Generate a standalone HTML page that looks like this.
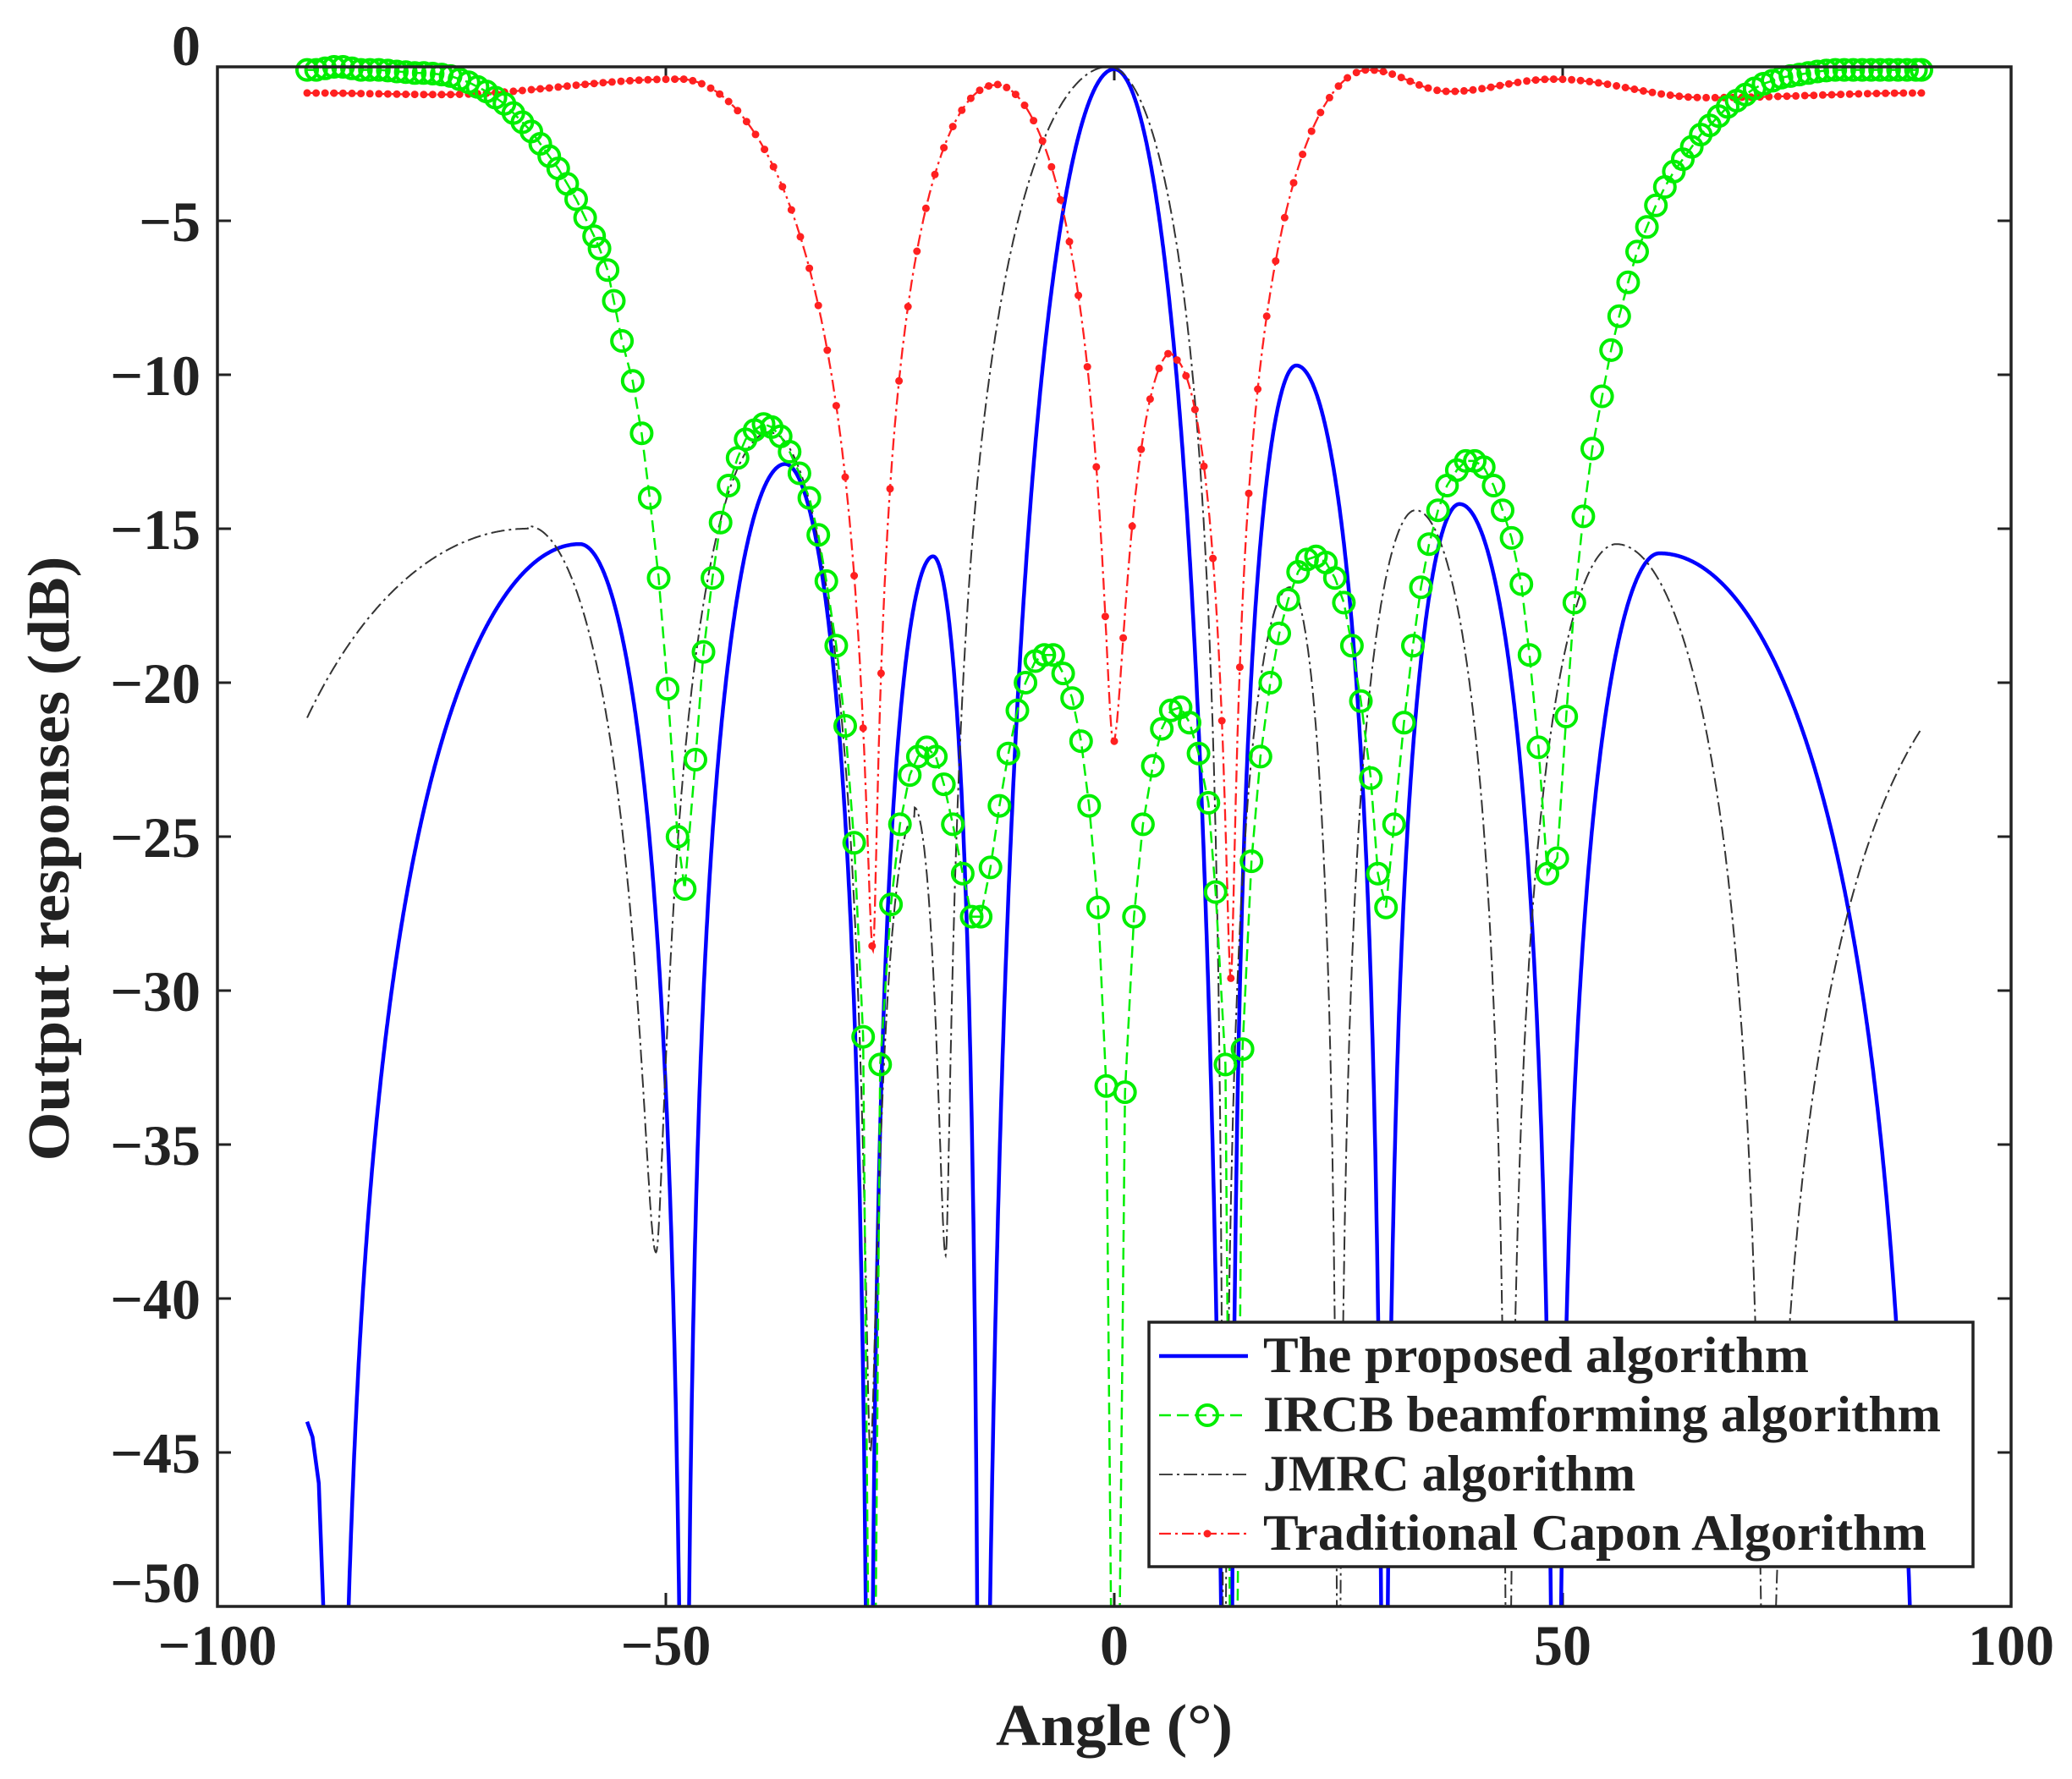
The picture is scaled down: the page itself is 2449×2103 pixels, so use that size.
<!DOCTYPE html>
<html><head><meta charset="utf-8">
<style>
html,body{margin:0;padding:0;background:#fff;width:2449px;height:2103px;overflow:hidden;}
svg{display:block;position:absolute;left:0;top:0;}
text{font-family:"Liberation Serif",serif;font-weight:bold;fill:#222;}
</style></head>
<body>
<svg id="s" width="2449" height="2103" viewBox="0 0 2449 2103" xmlns="http://www.w3.org/2000/svg">
<defs><clipPath id="cp"><rect x="0" y="0" width="2449" height="1899"/></clipPath>
<clipPath id="cp2"><rect x="257" y="79" width="2120" height="1820"/></clipPath></defs>
<rect x="0" y="0" width="2449" height="2103" fill="#fff"/>
<g id="ticks"></g>
<g id="plot"></g>
<rect x="257" y="79" width="2120" height="1820" fill="none" stroke="#222" stroke-width="3.5"/>
<g id="labels"></g>
<text x="1317" y="2063" font-size="70" text-anchor="middle" textLength="280" lengthAdjust="spacingAndGlyphs">Angle (°)</text>
<text transform="translate(81,1015) rotate(-90)" font-size="70" text-anchor="middle" textLength="715" lengthAdjust="spacingAndGlyphs">Output responses (dB)</text>
<g>
<rect x="1358" y="1563" width="974" height="289" fill="#fff" stroke="#222" stroke-width="3.5"/>
<line x1="1370" y1="1603" x2="1475" y2="1603" stroke="#0000ff" stroke-width="4.5"/>
<line x1="1370" y1="1673" x2="1475" y2="1673" stroke="#00ee00" stroke-width="2.5" stroke-dasharray="14,7"/>
<circle cx="1427" cy="1673" r="12" fill="none" stroke="#00ee00" stroke-width="4"/>
<line x1="1370" y1="1743" x2="1475" y2="1743" stroke="#444" stroke-width="2" stroke-dasharray="16,5,3,5"/>
<line x1="1370" y1="1813" x2="1475" y2="1813" stroke="#ff2020" stroke-width="2.3" stroke-dasharray="14,5,3,5"/>
<circle cx="1427" cy="1813" r="4.5" fill="#ff2020"/>
<text x="1493" y="1622" font-size="60" textLength="645" lengthAdjust="spacingAndGlyphs">The proposed algorithm</text>
<text x="1493" y="1692" font-size="60" textLength="801" lengthAdjust="spacingAndGlyphs">IRCB beamforming algorithm</text>
<text x="1493" y="1762" font-size="60" textLength="440" lengthAdjust="spacingAndGlyphs">JMRC algorithm</text>
<text x="1493" y="1832" font-size="60" textLength="784" lengthAdjust="spacingAndGlyphs">Traditional Capon Algorithm</text>
</g>
</svg>
<script>
(function(){
var NS="http://www.w3.org/2000/svg";
var L=257,R=2377,T=79,B=1899;
function X(a){return L+(a+100)*(R-L)/200;}
function Y(d){return T-d*(B-T)/50;}
function el(tag,attrs,parent,txt){var e=document.createElementNS(NS,tag);for(var k in attrs)e.setAttribute(k,attrs[k]);if(txt!==undefined)e.textContent=txt;parent.appendChild(e);return e;}
var ticks=document.getElementById('ticks'),labels=document.getElementById('labels'),plot=document.getElementById('plot');
var tl=16;
[-100,-50,0,50,100].forEach(function(a){var x=X(a);
 el('line',{x1:x,y1:B,x2:x,y2:B-tl,stroke:'#222','stroke-width':3},ticks);
 el('line',{x1:x,y1:T,x2:x,y2:T+tl,stroke:'#222','stroke-width':3},ticks);
 el('text',{x:x,y:1968,'font-size':68,'text-anchor':'middle'},labels,(a<0?'\u2212':'')+Math.abs(a));
});
for(var d=0;d>=-50;d-=5){var y=Y(d);
 el('line',{x1:L,y1:y,x2:L+tl,y2:y,stroke:'#222','stroke-width':3},ticks);
 el('line',{x1:R,y1:y,x2:R-tl,y2:y,stroke:'#222','stroke-width':3},ticks);
 var by=y+24; if(d===0)by=77; if(d===-50)by=1894;
 el('text',{x:237,y:by,'font-size':68,'text-anchor':'end'},labels,(d<0?'\u2212':'')+Math.abs(d));
}
function lobe(x,xp,vp,xn,vn,k){var eps=Math.pow(10,(vn-vp)/(10*k));var t=Math.abs(x-xp)/Math.abs(xn-xp);var c=Math.cos(Math.PI/2*Math.min(t,1));return vp+10*k*Math.log10(c*c+eps);}
function cosi(x,x0,v0,x1,v1){var t=(x-x0)/(x1-x0);return v0+(v1-v0)*(1-Math.cos(Math.PI*t))/2;}
function evalCurve(ext,x){
 for(var i=0;i<ext.length-1;i++){var a=ext[i],b=ext[i+1];
  if(x>=a[0]&&x<=b[0]){var k=a[2]||1;
   if(a[3]==='c')return cosi(x,a[0],a[1],b[0],b[1]);
   if(a[1]>b[1])return lobe(x,a[0],a[1],b[0],b[1],k);
   return lobe(x,b[0],b[1],a[0],a[1],k);}
 }return null;}
function pathFrom(pts){var s='';pts.forEach(function(p,i){s+=(i?'L':'M')+X(p[0]).toFixed(1)+' '+Y(Math.max(p[1],-70)).toFixed(1);});return s;}
function sample(ext,x0,x1,st){var pts=[];for(var x=x0;x<=x1+1e-9;x+=st)pts.push([x,evalCurve(ext,x)]);return pts;}
var g=el('g',{'clip-path':'url(#cp2)'},plot);
var bk=1.6,bm=2.8;
var blueExt=[[-86.8,-75,bk],[-59.6,-15.5,bk],[-47.9,-75,bk],[-36.7,-12.9,bk],[-27.3,-75,bk],[-20.2,-15.9,bk],[-15,-75,bm],[0,-0.1,bm],[12.9,-75,bk],[20.3,-9.7,bk],[30.1,-75,bk],[38.5,-14.2,bk],[49.2,-75,bk],[60.8,-15.8,bk],[90.3,-75,bk]];
var bp=[[-90,-44],[-89.4,-44.5],[-88.7,-46],[-88.2,-50],[-88,-62]].concat(sample(blueExt,-86.8,90,0.05));
el('path',{d:pathFrom(bp),fill:'none',stroke:'#0000ff','stroke-width':4.5,'stroke-linejoin':'round'},g);
var gr=[[-90,-0.1],[-89,-0.1],[-88,-0.05],[-87,0],[-86,0],[-85,-0.05],[-84,-0.1],[-83,-0.1],[-82,-0.1],[-81,-0.12],[-80,-0.15],[-79,-0.17],[-78,-0.2],[-77,-0.2],[-76,-0.22],[-75,-0.25],[-74,-0.3],[-73,-0.4],[-72,-0.5],[-71,-0.65],[-70,-0.8],[-69,-1.0],[-68,-1.2],[-67,-1.5],[-66,-1.8],[-65,-2.1],[-64,-2.5],[-63,-2.9],[-62,-3.3],[-61,-3.8],[-60,-4.3],[-59,-4.9],[-58,-5.5],
[-57.4,-5.9],[-56.5,-6.6],[-55.8,-7.6],[-54.9,-8.9],[-53.7,-10.2],[-52.7,-11.9],[-51.8,-14],[-50.8,-16.6],[-49.8,-20.2],[-48.7,-25],[-47.9,-26.7],[-46.7,-22.5],[-45.8,-19],[-44.8,-16.6],[-43.9,-14.8],[-43,-13.6],[-42,-12.7],[-41.1,-12.1],[-40.1,-11.8],[-39.1,-11.6],[-38.2,-11.7],[-37.2,-12],[-36.2,-12.5],[-35.1,-13.2],[-34,-14],[-33,-15.2],[-32.1,-16.7],[-31,-18.8],[-30,-21.4],[-29,-25.2],[-28,-31.5],[-27,-65],[-26.1,-32.4],[-24.9,-27.2],[-23.9,-24.6],[-22.8,-23],[-21.9,-22.4],[-20.9,-22.1],[-19.9,-22.4],[-19,-23.3],[-18,-24.6],[-16.9,-26.2],[-15.9,-27.6],[-14.9,-27.6],[-13.8,-26],[-12.8,-24],[-11.8,-22.3],[-10.8,-20.9],[-9.9,-20],[-8.8,-19.3],[-7.8,-19.1],[-6.8,-19.1],[-5.7,-19.7],[-4.7,-20.5],[-3.7,-21.9],[-2.8,-24],[-1.8,-27.3],[-0.9,-33.1],[0.1,-65],[1.2,-33.3],[2.2,-27.6],[3.2,-24.6],[4.3,-22.7],[5.3,-21.5],[6.3,-20.9],[7.4,-20.8],[8.4,-21.3],[9.4,-22.3],[10.5,-23.9],[11.3,-26.8],[12.4,-32.4],[13.3,-65],[14.3,-31.9],[15.3,-25.8],[16.3,-22.4],[17.4,-20.0],[18.4,-18.4],[19.4,-17.3],[20.5,-16.4],[21.5,-16],[22.5,-15.9],[23.6,-16.1],[24.6,-16.6],[25.6,-17.4],[26.5,-18.8],[27.5,-20.6],[28.6,-23.1],[29.4,-26.2],[30.3,-27.3],[31.2,-24.6],[32.3,-21.3],[33.3,-18.8],[34.2,-16.9],[35.1,-15.5],[36.1,-14.4],[37.1,-13.6],[38.2,-13.1],[39.2,-12.8],[40.2,-12.8],[41.2,-13],[42.3,-13.6],[43.3,-14.4],[44.3,-15.3],[45.4,-16.8],[46.3,-19.1],[47.3,-22.1],[48.3,-26.2],[49.4,-25.7],[50.4,-21.1],[51.3,-17.4],[52.3,-14.6],[53.3,-12.4],[54.4,-10.7],[55.4,-9.2],[56.3,-8.1],[57.3,-7.0],[58.3,-6.0],[59.4,-5.2],[60.4,-4.5],[61.4,-3.9],[62.4,-3.4],[63.4,-3.0],[64.4,-2.6],[65.4,-2.2],[66.4,-1.9],[67.4,-1.6],[68.4,-1.3],[69.4,-1.1],[70.4,-0.9],[71.4,-0.7],[72.4,-0.55],[73.4,-0.45],[74.4,-0.35],[75.4,-0.3],[76.4,-0.25],[77.4,-0.2],[78.4,-0.15],[79.4,-0.12],[80.4,-0.1],[81.4,-0.1],[82.4,-0.1],[83.4,-0.1],[84.4,-0.1],[85.4,-0.1],[86.4,-0.1],[87.4,-0.1],[88.4,-0.1],[89.4,-0.1],[90,-0.1]];
var gg=el('g',{'clip-path':'url(#cp)'},plot);
el('path',{d:pathFrom(gr),fill:'none',stroke:'#00ee00','stroke-width':2.5,'stroke-dasharray':'14,7'},gg);
gr.forEach(function(p){if(p[1]>-50)el('circle',{cx:X(p[0]).toFixed(1),cy:Y(p[1]).toFixed(1),r:12,fill:'none',stroke:'#00ee00','stroke-width':4},gg);});
var k=1.3;
var blkExt=[[-106,-60,k],[-65.4,-15,k],[-51.1,-38.5,k],[-38.3,-11.9,k],[-27.2,-45,k],[-22.3,-24.5,k],[-18.8,-38.6,k],[-0.6,0,k],[12.2,-70,k],[19.6,-16.9,k],[25,-70,k],[33.6,-14.4,k],[43.9,-70,k],[56,-15.5,k],[72.6,-70,k],[102,-19,k]];
el('path',{d:pathFrom(sample(blkExt,-90,90,0.05)),fill:'none',stroke:'#333','stroke-width':2,'stroke-dasharray':'16,5,3,5'},g);
var redExt=[[-90,-0.85,1,'c'],[-75,-0.9,1,'c'],[-48.6,-0.4,1],[-26.9,-28.7,1],[-13.3,-0.6,1],[-0.1,-21.9,1],[6.5,-9.5,1],[13,-29.6,1],[28.4,-0.1,1,'c'],[37.3,-0.8,1,'c'],[49,-0.4,1,'c'],[66,-1.0,1,'c'],[90,-0.85,1]];
el('path',{d:pathFrom(sample(redExt,-90,90,0.05)),fill:'none',stroke:'#ff2020','stroke-width':2.3,'stroke-dasharray':'14,5,3,5'},g);
for(var a=-90;a<=90;a++){var v=evalCurve(redExt,a);if(a===0)v=-21.9;el('circle',{cx:X(a).toFixed(1),cy:Y(v).toFixed(1),r:4.5,fill:'#ff2020'},g);}
})();
</script>
</body></html>
